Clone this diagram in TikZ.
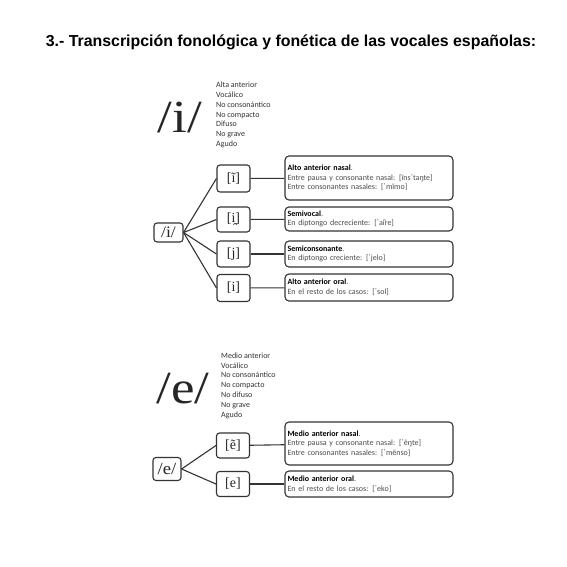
\documentclass[tikz,border=0pt]{standalone}
\usepackage{fontspec}
\usepackage{graphicx}
\setmainfont{Carlito}
\newfontfamily\titlefont{Liberation Sans}
\newfontfamily\phonfont{Liberation Serif}
\tikzset{
  linkline/.style={draw=black!80, line width=1.1pt},
  titlestyle/.style={inner sep=0pt, font=\titlefont\bfseries\fontsize{15.9}{18}\selectfont},
  bigphon/.style={inner sep=0pt, text=black!85, font=\phonfont\fontsize{46}{50}\selectfont},
  feat/.style={anchor=north west, inner sep=0pt, align=left, text=black!80, font=\fontsize{8}{9.8}\selectfont},
  phonbox/.style={draw=black!80, line width=1.1pt, rounded corners=3pt, inner sep=0pt, text=black!85, font=\phonfont\fontsize{14}{16}\selectfont},
  descbox/.style={draw=black!80, line width=1.1pt, rounded corners=4pt, text width=163pt, inner xsep=2.5pt, inner ysep=0pt, align=left, text=black!70, font=\fontsize{8}{9.7}\selectfont}
}
\newcommand{\hdr}[1]{{\color{black}\bfseries #1}}
\begin{document}
\begin{tikzpicture}[x=1pt,y=-1pt]
\useasboundingbox[fill=white] (0,0) rectangle (567,567);
\node[titlestyle] (title) at (291,42) {3.- Transcripción fonológica y fonética de las vocales españolas:};

% ---- /i/ ----
\node[bigphon, anchor=base] (bigi) at (180,132) {\scalebox{1.15}[1]{/i/}};
\node[feat] (feati) at (216,82) {Alta anterior\\Vocálico\\No consonántico\\No compacto\\Difuso\\No grave\\Agudo};

\node[phonbox, minimum width=29pt, minimum height=19pt, font=\phonfont\fontsize{16}{18}\selectfont] (pi) at (168.5,232.5) {\scalebox{1.1}[1]{/i/}};
\node[phonbox, minimum width=33pt, minimum height=27pt] (ni) at (233.5,178.5) {[ĩ]};
\node[phonbox, minimum width=33pt, minimum height=25pt] (si) at (233.5,219.5) {[i̯]};
\node[phonbox, minimum width=33pt, minimum height=26pt] (ji) at (233.5,254) {[j]};
\node[phonbox, minimum width=33pt, minimum height=27pt] (oi) at (233.5,288) {[i]};

\node[descbox, minimum height=44pt] (bi1) at (369,178) {\hdr{Alto anterior nasal}.\\Entre pausa y consonante nasal: [ĩnsˈtaŋte]\\Entre consonantes nasales: [ˈmĩmo]};
\node[descbox, minimum height=24pt] (bi2) at (369,219) {\hdr{Semivocal}.\\En diptongo decreciente: [ˈai̯re]};
\node[descbox, minimum height=26pt] (bi3) at (369,254) {\hdr{Semiconsonante}.\\En diptongo creciente: [ˈjelo]};
\node[descbox, minimum height=27pt] (bi4) at (369,287.5) {\hdr{Alto anterior oral}.\\En el resto de los casos: [ˈsol]};

\foreach \b in {ni,si,ji,oi} \draw[linkline] (pi.east) -- (\b.west);
\draw[linkline] (ni) -- (bi1);
\draw[linkline] (si) -- (bi2);
\draw[linkline] (ji) -- (bi3);
\draw[linkline] (oi) -- (bi4);

% ---- /e/ ----
\node[bigphon, anchor=base] (bige) at (183,403) {\scalebox{1.15}[1]{/e/}};
\node[feat] (feate) at (221,352.5) {Medio anterior\\Vocálico\\No consonántico\\No compacto\\No difuso\\No grave\\Agudo};

\node[phonbox, minimum width=28pt, minimum height=23pt, font=\phonfont\fontsize{17}{19}\selectfont] (pe) at (167,469) {\scalebox{1.1}[1]{/e/}};
\node[phonbox, minimum width=33pt, minimum height=25pt] (ne) at (233,445.5) {[ẽ]};
\node[phonbox, minimum width=33pt, minimum height=25pt] (oe) at (233,484) {[e]};

\node[descbox, minimum height=43pt] (be1) at (369,443.5) {\hdr{Medio anterior nasal}.\\Entre pausa y consonante nasal: [ˈẽŋte]\\Entre consonantes nasales: [ˈmẽnso]};
\node[descbox, minimum height=26pt] (be2) at (369,484) {\hdr{Medio anterior oral}.\\En el resto de los casos: [ˈeko]};

\draw[linkline] (pe.east) -- (ne.west);
\draw[linkline] (pe.east) -- (oe.west);
\draw[linkline] (ne) -- (be1);
\draw[linkline] (oe) -- (be2);
\end{tikzpicture}
\end{document}
